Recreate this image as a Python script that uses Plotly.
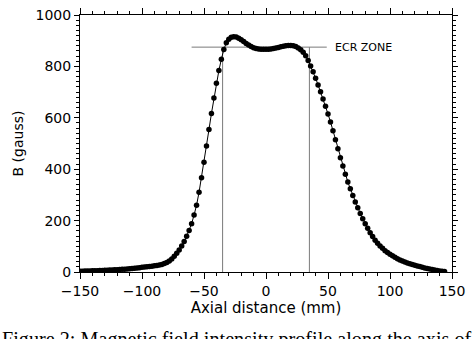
import plotly.graph_objects as go

# Axial position along the source axis (mm)
axial_mm = [
    -150, -148, -146, -144, -142, -140, -138, -136, -134, -132,
    -130, -128, -126, -124, -122, -120, -118, -116, -114, -112,
    -110, -108, -106, -104, -102, -100, -98, -96, -94, -92,
    -90, -88, -86, -84, -82, -80, -78, -76, -74, -72,
    -70, -68, -66, -64, -62, -60, -58, -56, -54, -52,
    -50, -48, -46, -44, -42, -40, -38, -36, -34, -32,
    -30, -28, -26, -24, -22, -20, -18, -16, -14, -12,
    -10, -8, -6, -4, -2, 0, 2, 4, 6, 8,
    10, 12, 14, 16, 18, 20, 22, 24, 26, 28,
    30, 32, 34, 36, 38, 40, 42, 44, 46, 48,
    50, 52, 54, 56, 58, 60, 62, 64, 66, 68,
    70, 72, 74, 76, 78, 80, 82, 84, 86, 88,
    90, 92, 94, 96, 98, 100, 102, 104, 106, 108,
    110, 112, 114, 116, 118, 120, 122, 124, 126, 128,
    130, 132, 134, 136, 138, 140, 142, 144,
]

# Measured magnetic field on axis (gauss)
field_gauss = [
    3, 3, 4, 4, 4, 5, 5, 5, 6, 6,
    7, 7, 8, 8, 9, 9, 10, 11, 11, 12,
    13, 14, 15, 16, 17, 18, 19, 20, 21, 22,
    24, 25, 27, 29, 33, 37, 43, 51, 61, 73,
    86, 101, 119, 139, 161, 188, 222, 260, 310, 367,
    427, 490, 554, 617, 677, 734, 784, 828, 866, 892,
    906, 913, 915, 914, 910, 904, 897, 889, 883, 877,
    873, 870, 868, 867, 867, 867, 867, 868, 870, 872,
    874, 876, 878, 880, 881, 881, 880, 877, 872, 865,
    855, 841, 823, 802, 779, 754, 728, 701, 673, 645,
    615, 584, 550, 515, 480, 445, 412, 380, 350, 324,
    298, 272, 250, 228, 207, 188, 170, 153, 138, 124,
    112, 101, 92, 83, 76, 69, 63, 57, 52, 47,
    43, 39, 35, 32, 29, 26, 23, 21, 18, 16,
    14, 12, 10, 8, 6, 4, 3, 2,
]

# ECR resonance level and its boundaries
ecr_field = 875
ecr_bounds_mm = [-35, 35]
ecr_line_mm = [-60, 49]
ecr_label = "ECR ZONE"

x_ticks = [-150, -100, -50, 0, 50, 100, 150]
y_ticks = [0, 200, 400, 600, 800, 1000]

caption = "Figure 2: Magnetic field intensity profile along the axis of"

grey = "#7a7a7a"
sans = "DejaVu Sans"

fig = go.Figure()

# ECR level line and zone boundaries
fig.add_trace(go.Scatter(
    x=ecr_line_mm, y=[ecr_field, ecr_field], mode="lines",
    line=dict(color=grey, width=1), hoverinfo="skip", showlegend=False))
for xb in ecr_bounds_mm:
    fig.add_trace(go.Scatter(
        x=[xb, xb], y=[0, ecr_field], mode="lines",
        line=dict(color=grey, width=1), hoverinfo="skip", showlegend=False))

# Field profile
fig.add_trace(go.Scatter(
    x=axial_mm, y=field_gauss, mode="lines+markers",
    line=dict(color="black", width=1),
    marker=dict(color="black", size=5.5, line=dict(width=0)),
    showlegend=False))

fig.add_annotation(
    x=ecr_line_mm[1], y=ecr_field, xref="x", yref="y",
    text=ecr_label, showarrow=False, xanchor="left", yanchor="middle",
    xshift=6, font=dict(family=sans, size=11, color="black"))

# Figure caption, partly below the page edge
fig.add_annotation(
    x=0, y=-0.212, xref="paper", yref="paper", xshift=-80,
    text=caption, showarrow=False, xanchor="left", yanchor="top",
    font=dict(family="Liberation Serif", size=20.2, color="black"))

axis_common = dict(
    showgrid=False, zeroline=False, showline=True, linecolor="black",
    linewidth=1, mirror="allticks", ticks="outside", tickcolor="black",
    tickwidth=1, tickfont=dict(family=sans, size=14, color="black"),
)

fig.update_xaxes(
    range=[-150, 150], tickvals=x_ticks, ticklen=6,
    minor=dict(dtick=10, ticklen=3, ticks="outside", tickcolor="black"),
    title=dict(text="Axial distance (mm)", standoff=0,
               font=dict(family=sans, size=15, color="black")),
    **axis_common)
fig.update_yaxes(
    range=[0, 1000], tickvals=y_ticks, ticklen=5,
    minor=dict(dtick=20, ticklen=3, ticks="outside", tickcolor="black"),
    title=dict(text="B (gauss)", standoff=8,
               font=dict(family=sans, size=14, color="black")),
    **axis_common)

fig.update_layout(
    width=474, height=339,
    margin=dict(l=80, r=22, t=8, b=67),
    paper_bgcolor="white", plot_bgcolor="white",
)

fig.write_html("out.html")
